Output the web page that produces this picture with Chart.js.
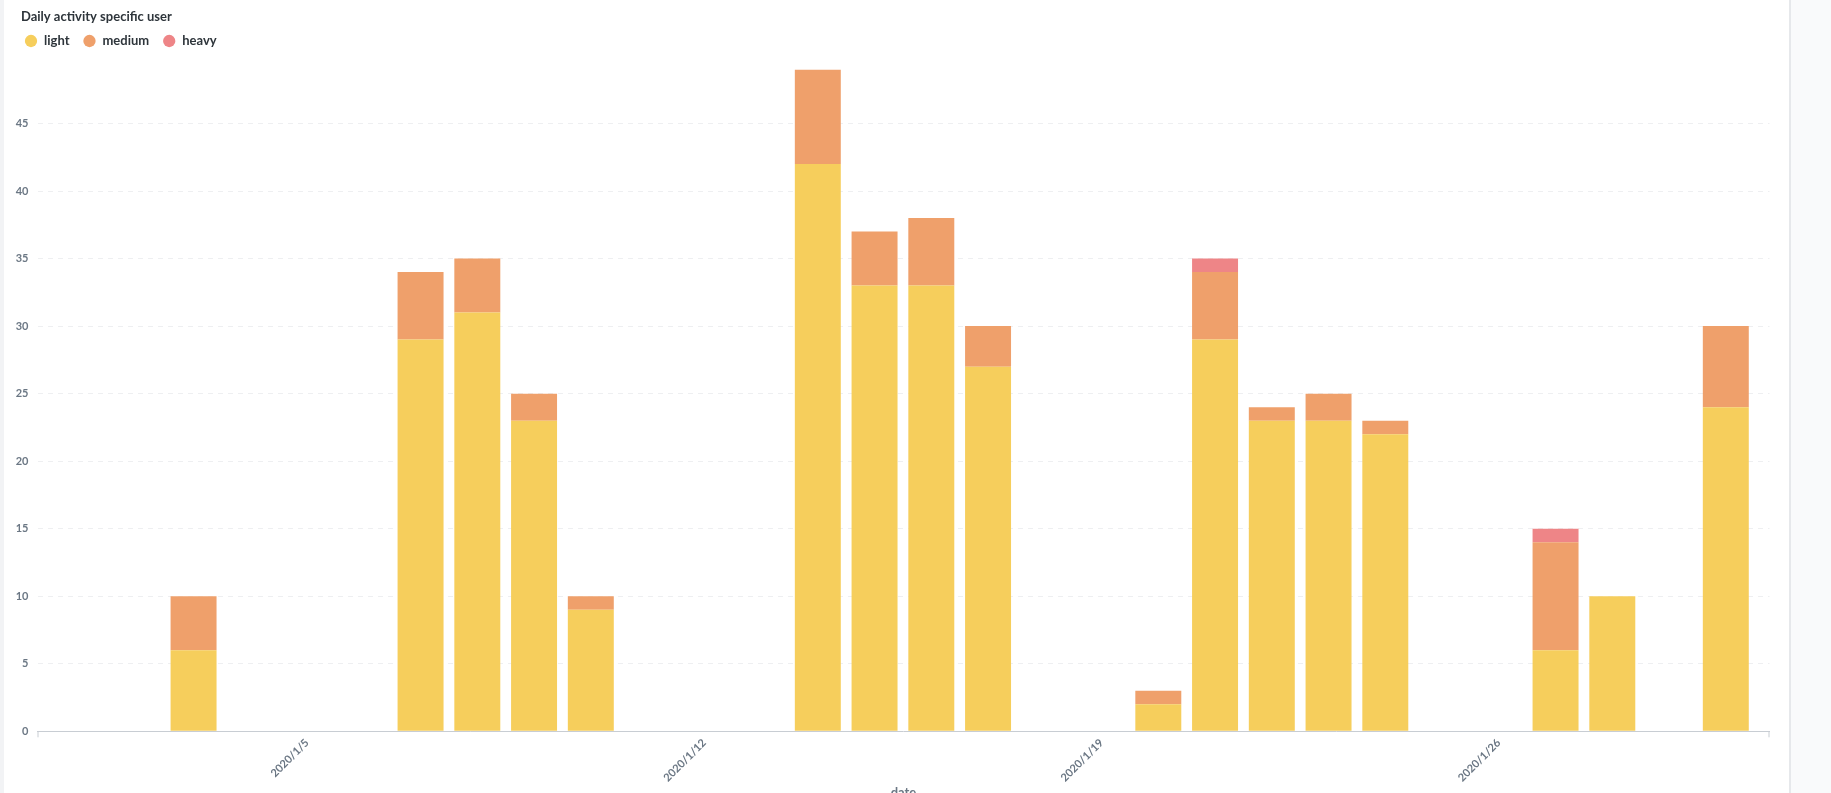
<!DOCTYPE html>
<html>
<head>
<meta charset="utf-8">
<title>Daily activity specific user</title>
<script src="https://cdn.jsdelivr.net/npm/chart.js@4.4.1/dist/chart.umd.min.js"></script>
<style>
  html, body { margin: 0; padding: 0; background: #f9fafb; overflow: hidden; }
  .card {
    position: absolute; left: 0; top: 0; width: 1791px; height: 830px;
    box-sizing: border-box; background: #fff;
    border-left: 4px solid #f2f3f5; border-right: 2px solid #e6e8eb;
  }
  .chart-wrap { position: absolute; left: 0; top: 0; width: 1789px; height: 820px; }
</style>
</head>
<body>
<div class="card"></div>
<div class="chart-wrap"><canvas id="chart"></canvas></div>
<script>
// data (null = no segment that day)
const dates = ['2020/1/3', '2020/1/7', '2020/1/8', '2020/1/9', '2020/1/10', '2020/1/14', '2020/1/15', '2020/1/16',
  '2020/1/17', '2020/1/20', '2020/1/21', '2020/1/22', '2020/1/23', '2020/1/24', '2020/1/27', '2020/1/28', '2020/1/30'];
const light = [6, 29, 31, 23, 9, 42, 33, 33, 27, 2, 29, 23, 23, 22, 6, 10, 24];
const medium = [4, 5, 4, 2, 1, 7, 4, 5, 3, 1, 5, 1, 2, 1, 8, null, 6];
const heavy = [null, null, null, null, null, null, null, null, null, null, 1, null, null, null, 1, null, null];
const tickLabels = ['2020/1/5', '2020/1/12', '2020/1/19', '2020/1/26'];
const yTicks = [0, 5, 10, 15, 20, 25, 30, 35, 40, 45];

const tickColor = '#6b7784';
const axisColor = '#c8cdd3';

// day of month from a 'yyyy/m/d' label, used as the x value
const dayOf = (label) => Number(label.split('/')[2]);
const points = (values) => dates.map((d, i) => ({ x: dayOf(d), y: values[i] }));

// title/legend nudges: legend gets more room below, title sits a bit further right
const headerTweak = {
  id: 'headerTweak',
  beforeInit(chart) {
    const fit = chart.legend.fit;
    chart.legend.fit = function () {
      fit.call(this);
      this.height += 7.9;
    };
  },
  afterLayout(chart) {
    chart.titleBlock.left += 7;
    chart.titleBlock.right += 7;
    chart.legend.left -= 3;
    chart.legend.top -= 4.1;
  },
};

// small end marks on the x axis line
const axisEnds = {
  id: 'axisEnds',
  afterDraw(chart) {
    const { ctx } = chart;
    const x = chart.scales.x;
    ctx.save();
    ctx.strokeStyle = axisColor;
    ctx.lineWidth = 1;
    ctx.beginPath();
    [x.left + 0.5, x.right - 0.5].forEach((px) => {
      ctx.moveTo(px, x.top);
      ctx.lineTo(px, x.top + 6);
    });
    ctx.stroke();
    ctx.restore();
  },
};

Chart.defaults.font.family = 'Lato, "Noto Sans", sans-serif';
Chart.defaults.animation = false;

const barOpts = { categoryPercentage: 1, barPercentage: 0.81, borderWidth: 0 };

new Chart(document.getElementById('chart'), {
  type: 'bar',
  data: {
    datasets: [
      { label: 'light', data: points(light), backgroundColor: '#F6CE5C', ...barOpts },
      { label: 'medium', data: points(medium), backgroundColor: '#EFA06B', ...barOpts },
      { label: 'heavy', data: points(heavy), backgroundColor: '#EE8587', ...barOpts },
    ],
  },
  options: {
    responsive: true,
    maintainAspectRatio: false,
    layout: { padding: { left: 14, right: 19.5, top: 0, bottom: 0 } },
    plugins: {
      title: {
        display: true,
        text: 'Daily activity specific user',
        align: 'start',
        color: '#2e353b',
        font: { size: 13, weight: 'bold' },
        padding: { top: 9.5, bottom: 0 },
      },
      legend: {
        display: true,
        align: 'start',
        labels: {
          usePointStyle: true,
          pointStyle: 'circle',
          boxWidth: 13,
          boxHeight: 8.7,
          padding: 13.5,
          color: '#2e353b',
          font: { size: 13, weight: 'bold' },
        },
      },
      tooltip: { enabled: false },
    },
    scales: {
      x: {
        type: 'linear',
        stacked: true,
        offset: false,
        min: 0.25,
        max: 30.77,
        grid: { display: false, drawTicks: false, offset: false },
        border: { display: true, color: axisColor, width: 1 },
        afterBuildTicks(scale) {
          scale.ticks = tickLabels.map((t) => ({ value: dayOf(t) }));
        },
        afterFit(scale) {
          scale.height = 88.7;
        },
        ticks: {
          autoSkip: false,
          minRotation: 45,
          maxRotation: 45,
          padding: 5,
          color: tickColor,
          font: { size: 11, weight: 'bold' },
          callback: (value) => tickLabels.find((t) => dayOf(t) === value) || '',
        },
        title: {
          display: true,
          text: 'date',
          color: tickColor,
          font: { size: 13, weight: 'bold' },
          padding: { top: 0, bottom: 19.5 },
        },
      },
      y: {
        stacked: true,
        min: 0,
        max: 49,
        afterBuildTicks(scale) {
          scale.ticks = yTicks.map((v) => ({ value: v }));
        },
        afterFit(scale) {
          scale.width = 23.5;
        },
        grid: { color: '#eeeff1', drawTicks: false, lineWidth: 1 },
        border: { display: false, dash: [5, 5] },
        ticks: {
          padding: 9,
          color: tickColor,
          font: { size: 11, weight: 'bold' },
        },
      },
    },
  },
  plugins: [headerTweak, axisEnds],
});
</script>
</body>
</html>
